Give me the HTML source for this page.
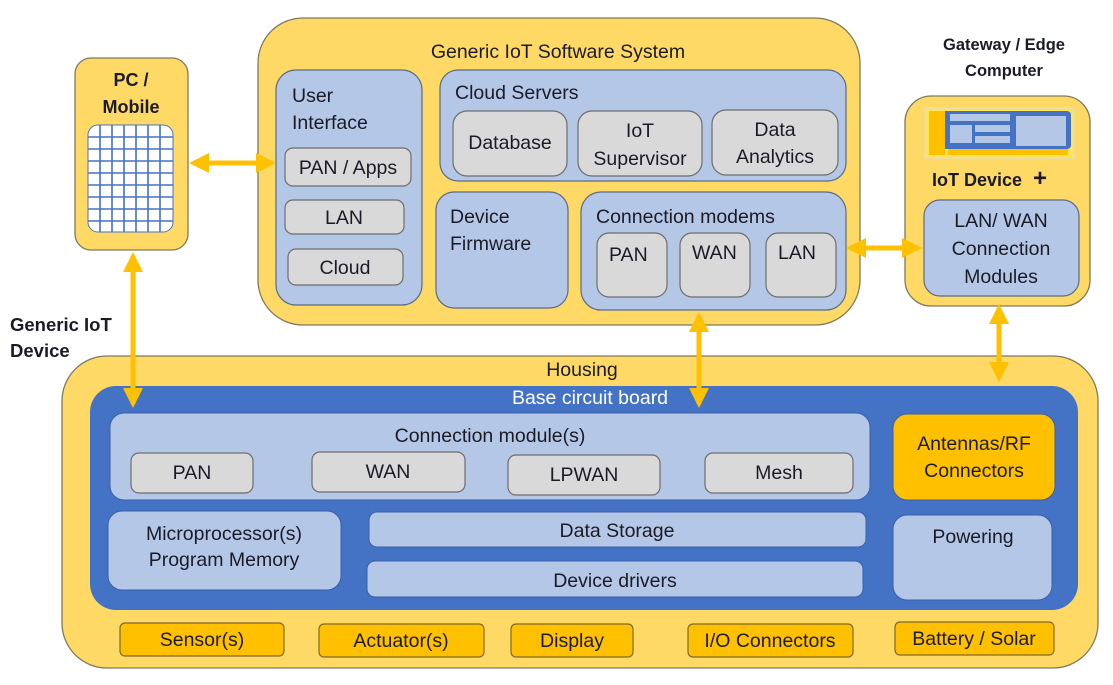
<!DOCTYPE html>
<html><head><meta charset="utf-8"><style>
html,body{margin:0;padding:0;background:#fff;}
svg{display:block;}
text{font-family:"Liberation Sans",sans-serif;fill:#1b1b28;font-size:19.5px;}
.b{font-weight:bold;font-size:17px;}
.c{text-anchor:middle;}
</style></head><body>
<svg width="1113" height="685" viewBox="0 0 1113 685" xmlns="http://www.w3.org/2000/svg">
<defs>
<marker id="ah" viewBox="0 0 10 10" refX="8" refY="5" markerWidth="4" markerHeight="4" orient="auto-start-reverse">
<path d="M0,0 L10,5 L0,10 z" fill="#FFC000"/></marker>
</defs>
<g stroke="#7f7a5e" stroke-width="1.3">
<rect x="75" y="58" width="113" height="192" rx="16" fill="#FFD966"/>
<rect x="258" y="18" width="602" height="307" rx="45" fill="#FFD966"/>
<rect x="905" y="96" width="185" height="210" rx="26" fill="#FFD966"/>
<rect x="62" y="356" width="1036" height="312" rx="45" fill="#FFD966"/>
</g>
<rect x="88" y="125" width="85" height="107" rx="10" fill="#fff" stroke="#4472C4" stroke-width="1"/>
<g stroke="#4472C4" stroke-width="1.6">
<line x1="100" y1="125" x2="100" y2="232"/><line x1="112" y1="125" x2="112" y2="232"/><line x1="124" y1="125" x2="124" y2="232"/><line x1="136" y1="125" x2="136" y2="232"/><line x1="148" y1="125" x2="148" y2="232"/><line x1="160" y1="125" x2="160" y2="232"/>
<line x1="88" y1="137" x2="173" y2="137"/><line x1="88" y1="149" x2="173" y2="149"/><line x1="88" y1="161" x2="173" y2="161"/><line x1="88" y1="173" x2="173" y2="173"/><line x1="88" y1="185" x2="173" y2="185"/><line x1="88" y1="197" x2="173" y2="197"/><line x1="88" y1="209" x2="173" y2="209"/><line x1="88" y1="221" x2="173" y2="221"/>
</g>
<g stroke="#5b6b86" stroke-width="1.2" fill="#B4C7E7">
<rect x="276" y="70" width="146" height="235" rx="20"/>
<rect x="440" y="70" width="406" height="111" rx="18"/>
<rect x="436" y="192" width="132" height="116" rx="18"/>
<rect x="581" y="192" width="265" height="118" rx="20"/>
<rect x="924" y="200" width="155" height="96" rx="16"/>
</g>
<g stroke="#6d6d6d" stroke-width="1.2" fill="#D9D9D9">
<rect x="285" y="148" width="126" height="38" rx="8"/>
<rect x="285" y="200" width="119" height="34" rx="8"/>
<rect x="288" y="249" width="115" height="36" rx="8"/>
<rect x="453" y="111" width="114" height="65" rx="14"/>
<rect x="578" y="111" width="124" height="65" rx="14"/>
<rect x="712" y="110" width="126" height="65" rx="14"/>
<rect x="597" y="233" width="70" height="64" rx="12"/>
<rect x="680" y="233" width="70" height="64" rx="12"/>
<rect x="766" y="233" width="70" height="64" rx="12"/>
</g>
<rect x="925" y="108" width="149" height="50" fill="#FFE35a" stroke="#ddd" stroke-width="1"/>
<rect x="929" y="111" width="142" height="38" rx="4" fill="#4472C4"/>
<rect x="929" y="111" width="16" height="44" fill="#FFC000"/>
<rect x="948" y="149" width="120" height="6" fill="#FFC000"/>
<rect x="950" y="114" width="60" height="7" fill="#B4C7E7"/>
<rect x="950" y="125" width="22" height="18" fill="#B4C7E7"/>
<rect x="975" y="125" width="35" height="7" fill="#B4C7E7"/>
<rect x="975" y="136" width="35" height="7" fill="#B4C7E7"/>
<rect x="1016" y="116" width="50" height="30" fill="#B4C7E7"/>
<rect x="90" y="386" width="988" height="224" rx="26" fill="#4472C4"/>
<g fill="#B4C7E7" stroke="#3a5fa8" stroke-width="1">
<rect x="110" y="413" width="760" height="87" rx="14"/>
<rect x="108" y="511" width="233" height="79" rx="14"/>
<rect x="369" y="512" width="497" height="35" rx="8"/>
<rect x="367" y="561" width="496" height="36" rx="8"/>
<rect x="893" y="515" width="159" height="85" rx="14"/>
</g>
<g fill="#D9D9D9" stroke="#6d6d6d" stroke-width="1.2">
<rect x="131" y="453" width="122" height="40" rx="8"/>
<rect x="312" y="452" width="153" height="40" rx="8"/>
<rect x="508" y="455" width="152" height="40" rx="8"/>
<rect x="705" y="453" width="148" height="40" rx="8"/>
</g>
<rect x="893" y="414" width="162" height="86" rx="14" fill="#FFC000" stroke="#3a5fa8" stroke-width="1"/>
<g fill="#FFC000" stroke="#7f6a2a" stroke-width="1.2">
<rect x="120" y="623" width="164" height="33" rx="5"/>
<rect x="319" y="624" width="165" height="33" rx="5"/>
<rect x="511" y="624" width="122" height="33" rx="5"/>
<rect x="688" y="624" width="165" height="33" rx="5"/>
<rect x="895" y="622" width="159" height="33" rx="5"/>
</g>
<g stroke="#FFC000" stroke-width="5" marker-start="url(#ah)" marker-end="url(#ah)">
<line x1="193" y1="163" x2="272" y2="163"/>
<line x1="133" y1="256" x2="133" y2="404"/>
<line x1="699" y1="316" x2="699" y2="404"/>
<line x1="850" y1="248" x2="918" y2="248"/>
<line x1="999" y1="308" x2="999" y2="378"/>
</g>
<text class="b c" x="131" y="86" style="font-size:18px">PC /</text>
<text class="b c" x="131" y="113" style="font-size:18px">Mobile</text>
<text class="b c" x="1004" y="50" style="font-size:16.5px">Gateway / Edge</text>
<text class="b c" x="1004" y="76" style="font-size:16.5px">Computer</text>
<text class="b" x="10" y="331" style="font-size:18.5px">Generic IoT</text>
<text class="b" x="10" y="357" style="font-size:18.5px">Device</text>
<text class="b" x="932" y="186" style="font-size:18px">IoT Device</text>
<text class="b" x="1033" y="186" style="font-size:24px">+</text>
<text class="c" x="558" y="58">Generic IoT Software System</text>
<text x="292" y="102">User</text>
<text x="292" y="129">Interface</text>
<text class="c" x="348" y="174">PAN / Apps</text>
<text class="c" x="344" y="224">LAN</text>
<text class="c" x="345" y="274">Cloud</text>
<text x="455" y="99">Cloud Servers</text>
<text class="c" x="510" y="149">Database</text>
<text class="c" x="640" y="137">IoT</text>
<text class="c" x="640" y="165">Supervisor</text>
<text class="c" x="775" y="136">Data</text>
<text class="c" x="775" y="163">Analytics</text>
<text x="450" y="223">Device</text>
<text x="450" y="250">Firmware</text>
<text x="596" y="223">Connection modems</text>
<text x="609" y="261">PAN</text>
<text x="692" y="259">WAN</text>
<text x="778" y="259">LAN</text>
<text class="c" x="1001" y="227">LAN/ WAN</text>
<text class="c" x="1001" y="255">Connection</text>
<text class="c" x="1001" y="283">Modules</text>
<text class="c" x="582" y="376">Housing</text>
<text class="c" x="590" y="404" style="fill:#fff">Base circuit board</text>
<text class="c" x="490" y="442">Connection module(s)</text>
<text class="c" x="192" y="479">PAN</text>
<text class="c" x="388" y="478">WAN</text>
<text class="c" x="584" y="481">LPWAN</text>
<text class="c" x="779" y="479">Mesh</text>
<text class="c" x="974" y="450">Antennas/RF</text>
<text class="c" x="974" y="477">Connectors</text>
<text class="c" x="224" y="540">Microprocessor(s)</text>
<text class="c" x="224" y="566">Program Memory</text>
<text class="c" x="617" y="537">Data Storage</text>
<text class="c" x="615" y="587">Device drivers</text>
<text class="c" x="973" y="543">Powering</text>
<text class="c" x="202" y="646">Sensor(s)</text>
<text class="c" x="401" y="647">Actuator(s)</text>
<text class="c" x="572" y="647">Display</text>
<text class="c" x="770" y="647">I/O Connectors</text>
<text class="c" x="974" y="645">Battery / Solar</text>
</svg>
</body></html>
